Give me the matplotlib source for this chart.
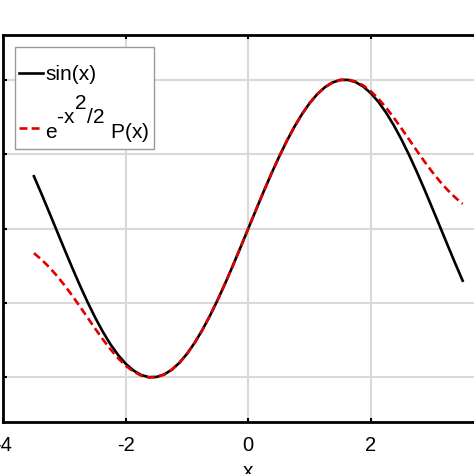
import matplotlib
matplotlib.use('Agg')
import matplotlib.pyplot as plt
import matplotlib._mathtext as mt

# MATLAB-style TeX: superscripts full size and raised higher
mt.SHRINK_FACTOR = 1.0
mt.FontConstantsBase.sup1 = 1.35

plt.rcParams['font.family'] = ['Liberation Sans', 'DejaVu Sans']
plt.rcParams['mathtext.fontset'] = 'custom'
plt.rcParams['mathtext.rm'] = 'Liberation Sans'
plt.rcParams['mathtext.it'] = 'Liberation Sans'
plt.rcParams['axes.unicode_minus'] = False

x_vals = [-3.5, -3.375, -3.25, -3.125, -3.0, -2.875, -2.75, -2.625, -2.5, -2.375,
          -2.25, -2.125, -2.0, -1.875, -1.75, -1.625, -1.5, -1.375, -1.25, -1.125,
          -1.0, -0.875, -0.75, -0.625, -0.5, -0.375, -0.25, -0.125, 0.0,
          0.125, 0.25, 0.375, 0.5, 0.625, 0.75, 0.875, 1.0, 1.125, 1.25, 1.375,
          1.5, 1.625, 1.75, 1.875, 2.0, 2.125, 2.25, 2.375, 2.5, 2.625, 2.75,
          2.875, 3.0, 3.125, 3.25, 3.375, 3.5]
sin_vals = [0.3508, 0.2313, 0.1082, -0.0166, -0.1411, -0.2634, -0.3817, -0.4939,
            -0.5985, -0.6937, -0.7781, -0.8503, -0.9093, -0.9541, -0.9840, -0.9985,
            -0.9975, -0.9809, -0.9490, -0.9023, -0.8415, -0.7675, -0.6816, -0.5851,
            -0.4794, -0.3663, -0.2474, -0.1247, 0.0,
            0.1247, 0.2474, 0.3663, 0.4794, 0.5851, 0.6816, 0.7675, 0.8415, 0.9023,
            0.9490, 0.9809, 0.9975, 0.9985, 0.9840, 0.9541, 0.9093, 0.8503, 0.7781,
            0.6937, 0.5985, 0.4939, 0.3817, 0.2634, 0.1411, 0.0166, -0.1082,
            -0.2313, -0.3508]
approx_vals = [-0.1655, -0.2093, -0.2601, -0.3177, -0.3816, -0.4506, -0.5234,
               -0.5981, -0.6726, -0.7446, -0.8117, -0.8716, -0.9222, -0.9615,
               -0.9880, -1.0006, -0.9985, -0.9813, -0.9491, -0.9023, -0.8415,
               -0.7675, -0.6816, -0.5851, -0.4794, -0.3663, -0.2474, -0.1247, 0.0,
               0.1247, 0.2474, 0.3663, 0.4794, 0.5851, 0.6816, 0.7675, 0.8415,
               0.9023, 0.9491, 0.9813, 0.9985, 1.0006, 0.9880, 0.9615, 0.9222,
               0.8716, 0.8117, 0.7446, 0.6726, 0.5981, 0.5234, 0.4506, 0.3816,
               0.3177, 0.2601, 0.2093, 0.1655]
xticks = [-4, -2, 0, 2, 4]
yticks = [-1, -0.5, 0, 0.5, 1]
ytick_labels = ['-1', '-0.5', '0', '0.5', '1']

fig = plt.figure(figsize=(4.74, 4.74), dpi=100)
# the picture is a crop: axes run past the right edge
ax = fig.add_axes([3.3 / 474, 52 / 474, 490 / 474, 387 / 474])

ax.plot(x_vals, sin_vals, color='black', lw=1.9, label='sin(x)')
ax.plot(x_vals, approx_vals, color='#e00000', lw=1.9, linestyle=(0, (3, 1.6)),
        label='$\\mathregular{e^{\u2010x^{2}/2}}$ P(x)')

ax.set_xlim(-4, 4)
ax.set_ylim(-1.3, 1.3)
ax.set_xticks(xticks)
ax.set_yticks(yticks)
ax.set_yticklabels(ytick_labels)
ax.grid(True, color='#d9d9d9', lw=1.5)
ax.set_axisbelow(True)
ax.tick_params(direction='in', top=True, right=True, length=3, width=1.5,
               labelsize=14.5, pad=10)
for s in ax.spines.values():
    s.set_linewidth(2)
ax.set_xlabel('x', fontsize=15, labelpad=5)

leg = ax.legend(loc='upper left', bbox_to_anchor=(0.024, 0.969), borderaxespad=0,
                fontsize=15, fancybox=False, edgecolor='#999999', framealpha=1,
                handlelength=1.15, handletextpad=0.1, labelspacing=1.1,
                borderpad=0.2)
leg.get_frame().set_linewidth(1)

# MATLAB gives both rows the same height, so the first row sits lower
px = 72 / fig.dpi
t0 = leg.get_texts()[0]
t0.set_position((0, -14))
h0, h1 = leg.get_lines()
h0.set_ydata([y - 14 * px for y in h0.get_ydata()])
h1.set_ydata([y + 3 * px for y in h1.get_ydata()])

fig.savefig('out.png', dpi=100)
